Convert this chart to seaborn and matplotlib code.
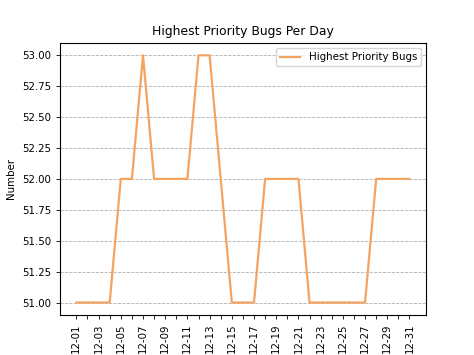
import matplotlib

matplotlib.use("Agg")
import matplotlib.pyplot as plt
import pandas as pd
import seaborn as sns

days = [f"12-{d:02d}" for d in range(1, 32)]
bugs = [
    51, 51, 51, 51, 52, 52, 53, 52, 52, 52, 52, 53, 53, 52, 51, 51,
    51, 52, 52, 52, 52, 51, 51, 51, 51, 51, 51, 52, 52, 52, 52,
]

df = pd.DataFrame({"day": days, "bugs": bugs})

plt.rcParams.update({
    "font.size": 7.4,
    "xtick.major.size": 2.6,
    "ytick.major.size": 2.6,
    "xtick.major.width": 0.6,
    "ytick.major.width": 0.6,
    "axes.linewidth": 0.8,
})

fig, ax = plt.subplots(figsize=(4.74, 3.55), dpi=100)
fig.subplots_adjust(left=0.126, right=0.899, top=0.879, bottom=0.113)
sns.lineplot(
    data=df, x="day", y="bugs", ax=ax, color="#f4a460", linewidth=1.6,
    label="Highest Priority Bugs", sort=False,
)
ax.set_xticks(range(len(days)))
ax.set_xticklabels([d if i % 2 == 0 else "" for i, d in enumerate(days)],
                   rotation=90)
ax.yaxis.set_major_locator(matplotlib.ticker.MultipleLocator(0.25))
ax.yaxis.set_major_formatter(matplotlib.ticker.FormatStrFormatter("%.2f"))
ax.grid(axis="y", linestyle="--", color="#b0b0b0", linewidth=0.6)
ax.set_axisbelow(True)
ax.set_xlabel("")
ax.set_ylabel("Number")
ax.set_title("Highest Priority Bugs Per Day", fontsize=8.9)
ax.legend(loc="upper right")
fig.savefig("out.png", dpi=100)
